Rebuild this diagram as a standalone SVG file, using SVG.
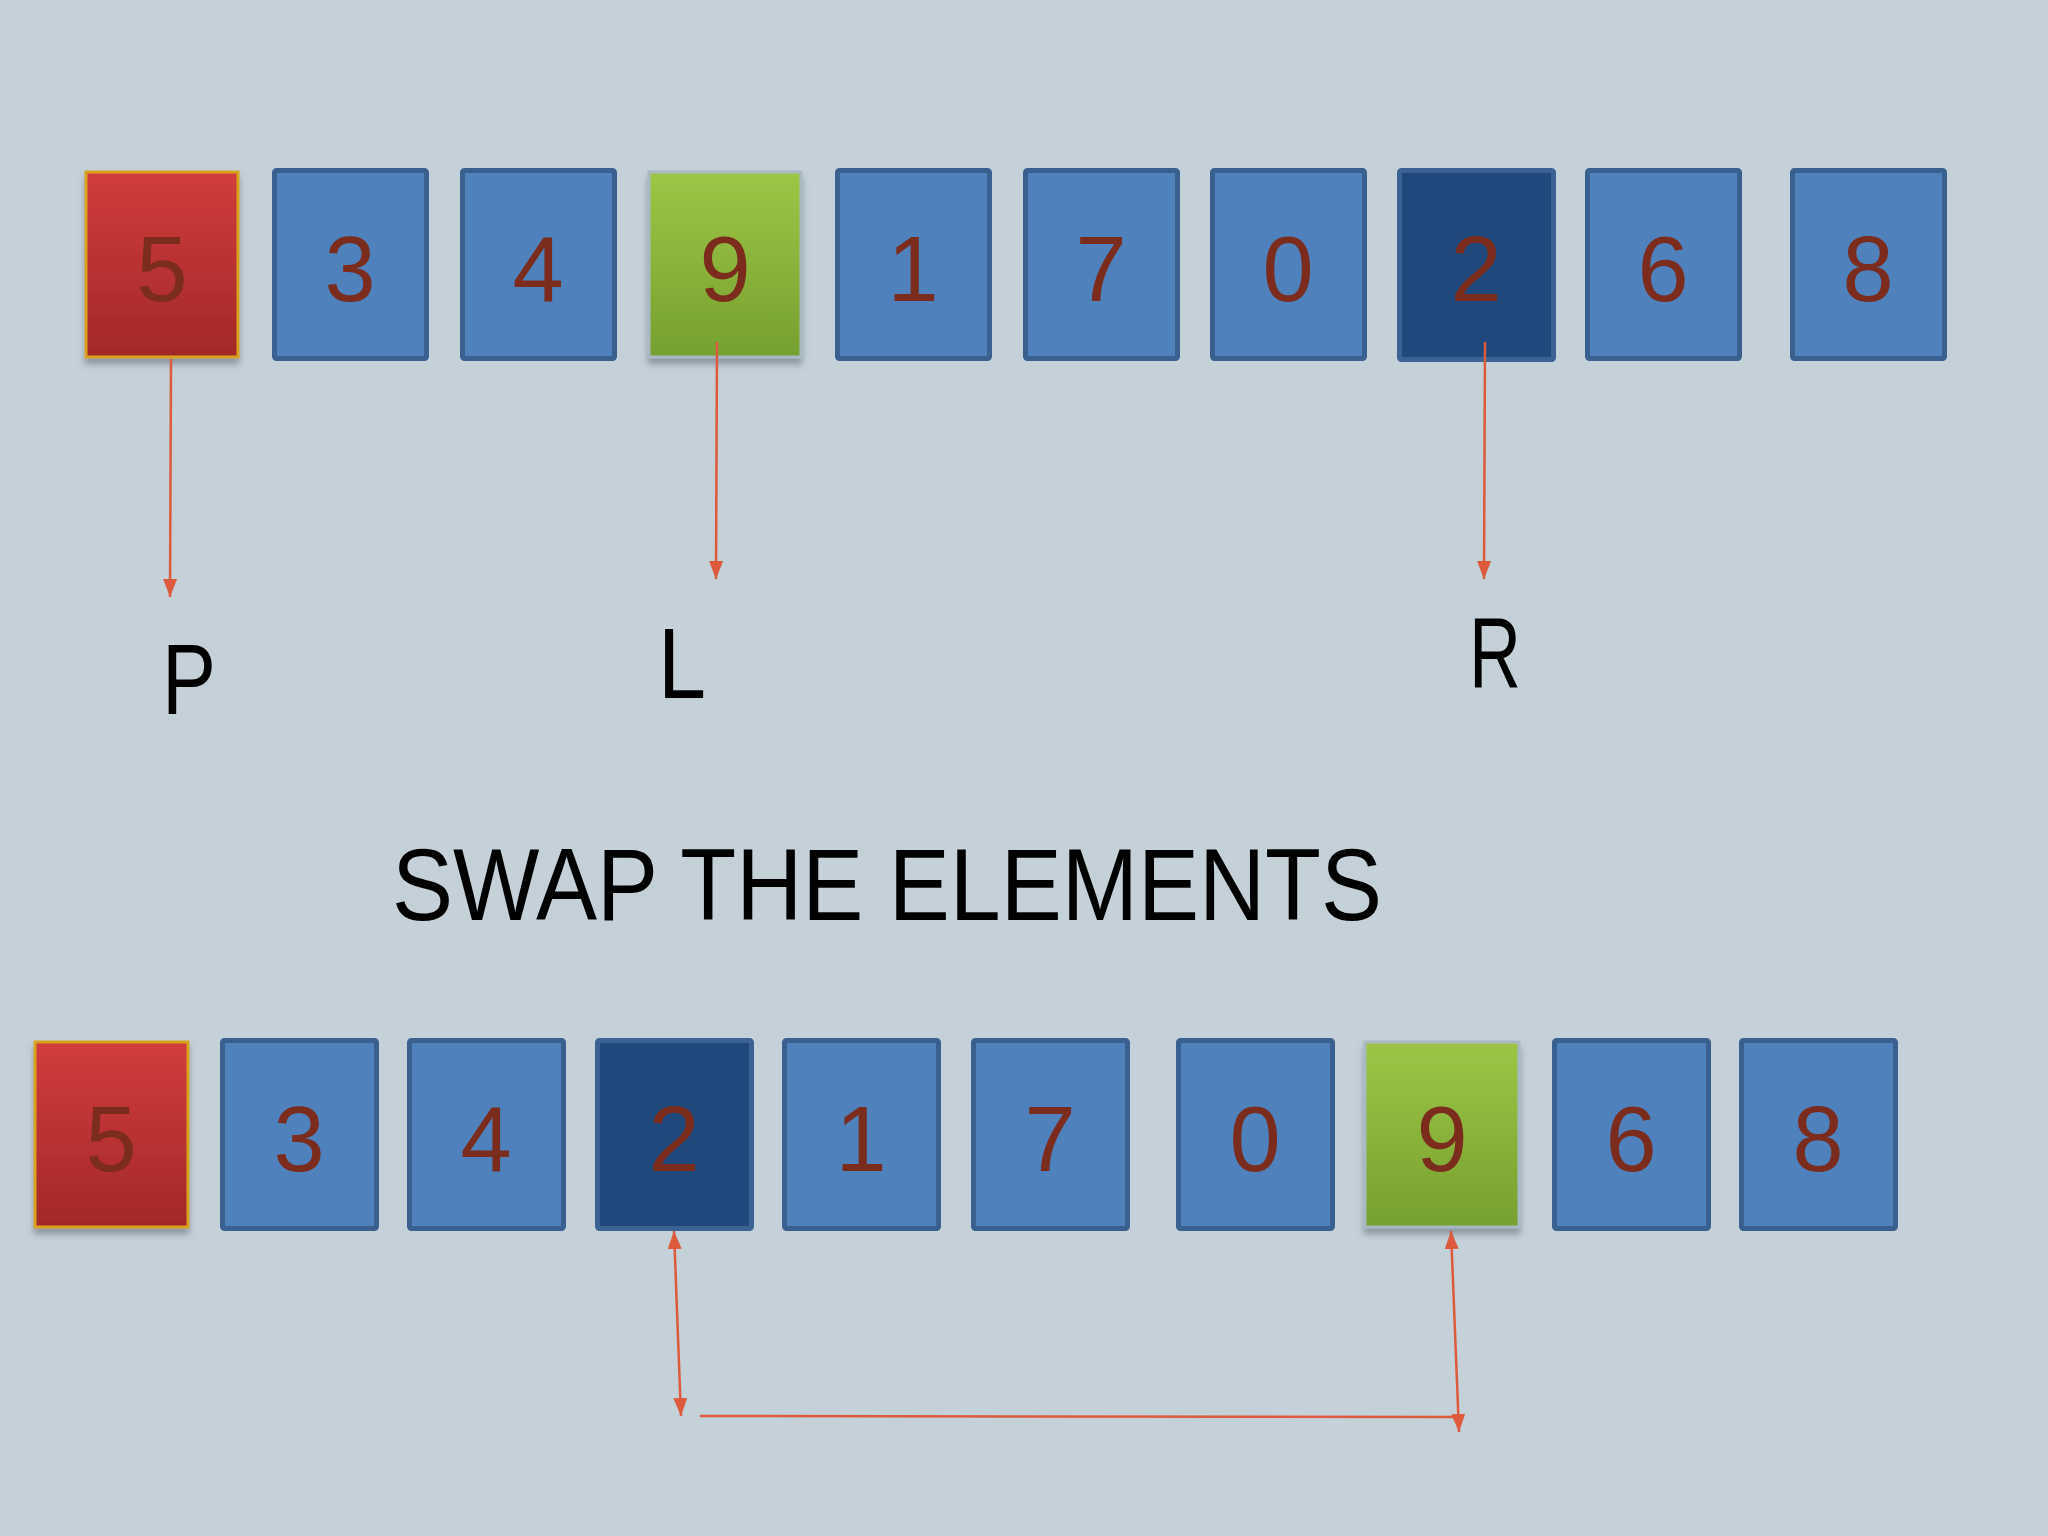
<svg xmlns="http://www.w3.org/2000/svg" width="2048" height="1536" viewBox="0 0 2048 1536">
<defs>
<style>
.blue{fill:#4f81bd;stroke:#3a6090;stroke-width:5}
.dark{fill:#1f497d;stroke:#3a6394;stroke-width:5}
.red{fill:url(#gRed);stroke:#d9a21e;stroke-width:3}
.green{fill:url(#gGreen);stroke:#a9b9c4;stroke-width:3}
.num{font-family:"Liberation Sans",Arial,sans-serif;font-size:92px;fill:#7b2c1c;text-anchor:middle}
.lbl{font-family:"Liberation Sans",Arial,sans-serif;font-size:100px;fill:#000;text-anchor:middle}
.arr{stroke:#dd5a3c;stroke-width:2.5;fill:none}
</style>
<linearGradient id="gRed" x1="0" y1="0" x2="0" y2="1">
<stop offset="0" stop-color="#d23c3c"/>
<stop offset="1" stop-color="#a22828"/>
</linearGradient>
<linearGradient id="gGreen" x1="0" y1="0" x2="0" y2="1">
<stop offset="0" stop-color="#9dc646"/>
<stop offset="1" stop-color="#76a02f"/>
</linearGradient>
<filter id="sh" x="-10%" y="-10%" width="120%" height="125%">
<feDropShadow dx="0" dy="6" stdDeviation="3" flood-color="#55606a" flood-opacity="0.5"/>
</filter>
<marker id="ah" viewBox="0 0 18 14" refX="18" refY="7" markerWidth="18" markerHeight="14" markerUnits="userSpaceOnUse" orient="auto-start-reverse">
<path d="M0,0 L18,7 L0,14 z" fill="#dd5a3c"/>
</marker>
</defs>
<rect width="2048" height="1536" fill="#c5d1d9"/>

<g id="top-row">
<g id="t5"><rect class="red" x="86" y="172" width="152" height="185" filter="url(#sh)"/><text class="num" x="162" y="301">5</text></g>
<g id="t3"><rect class="blue" x="274.5" y="170.5" width="152" height="188" rx="2"/><text class="num" x="350" y="301">3</text></g>
<g id="t4"><rect class="blue" x="462.5" y="170.5" width="152" height="188" rx="2"/><text class="num" x="538" y="301">4</text></g>
<g id="t9"><rect class="green" x="649" y="172" width="152" height="185" filter="url(#sh)"/><text class="num" x="725" y="301">9</text></g>
<g id="t1"><rect class="blue" x="837.5" y="170.5" width="152" height="188" rx="2"/><text class="num" x="913" y="301">1</text></g>
<g id="t7"><rect class="blue" x="1025.5" y="170.5" width="152" height="188" rx="2"/><text class="num" x="1101" y="301">7</text></g>
<g id="t0"><rect class="blue" x="1212.5" y="170.5" width="152" height="188" rx="2"/><text class="num" x="1288" y="301">0</text></g>
<g id="t2"><rect class="dark" x="1399.5" y="170.5" width="154" height="189" rx="2"/><text class="num" x="1476" y="301">2</text></g>
<g id="t6"><rect class="blue" x="1587.5" y="170.5" width="152" height="188" rx="2"/><text class="num" x="1663" y="301">6</text></g>
<g id="t8"><rect class="blue" x="1792.5" y="170.5" width="152" height="188" rx="2"/><text class="num" x="1868" y="301">8</text></g>
</g>

<g id="labels">
<text id="lblP" class="lbl" x="189" y="714" textLength="54" lengthAdjust="spacingAndGlyphs">P</text>
<text id="lblL" class="lbl" x="682" y="698" textLength="48" lengthAdjust="spacingAndGlyphs">L</text>
<text id="lblR" class="lbl" x="1495" y="688" textLength="52" lengthAdjust="spacingAndGlyphs">R</text>
<text id="title" x="392" y="920" font-family="Liberation Sans, Arial, sans-serif" font-size="102" fill="#000" textLength="990" lengthAdjust="spacingAndGlyphs">SWAP THE ELEMENTS</text>
</g>

<g id="bottom-row">
<g id="b5"><rect class="red" x="35" y="1042" width="153" height="185" filter="url(#sh)"/><text class="num" x="111" y="1171">5</text></g>
<g id="b3"><rect class="blue" x="222.5" y="1040.5" width="154" height="188" rx="2"/><text class="num" x="299" y="1171">3</text></g>
<g id="b4"><rect class="blue" x="409.5" y="1040.5" width="154" height="188" rx="2"/><text class="num" x="486" y="1171">4</text></g>
<g id="b2"><rect class="dark" x="597.5" y="1040.5" width="154" height="188" rx="2"/><text class="num" x="674" y="1171">2</text></g>
<g id="b1"><rect class="blue" x="784.5" y="1040.5" width="154" height="188" rx="2"/><text class="num" x="861" y="1171">1</text></g>
<g id="b7"><rect class="blue" x="973.5" y="1040.5" width="154" height="188" rx="2"/><text class="num" x="1050" y="1171">7</text></g>
<g id="b0"><rect class="blue" x="1178.5" y="1040.5" width="154" height="188" rx="2"/><text class="num" x="1255" y="1171">0</text></g>
<g id="b9"><rect class="green" x="1365" y="1042" width="154" height="185" filter="url(#sh)"/><text class="num" x="1442" y="1171">9</text></g>
<g id="b6"><rect class="blue" x="1554.5" y="1040.5" width="154" height="188" rx="2"/><text class="num" x="1631" y="1171">6</text></g>
<g id="b8"><rect class="blue" x="1741.5" y="1040.5" width="154" height="188" rx="2"/><text class="num" x="1818" y="1171">8</text></g>
</g>

<g id="connectors">
<line class="arr" x1="171" y1="359" x2="170" y2="597" marker-end="url(#ah)"/>
<line class="arr" x1="717" y1="342" x2="716" y2="579" marker-end="url(#ah)"/>
<line class="arr" x1="1485" y1="342" x2="1484" y2="579" marker-end="url(#ah)"/>
<line class="arr" x1="674" y1="1231" x2="681" y2="1416" marker-start="url(#ah)" marker-end="url(#ah)"/>
<line class="arr" x1="1451" y1="1231" x2="1459" y2="1432" marker-start="url(#ah)" marker-end="url(#ah)"/>
<line class="arr" x1="700" y1="1416" x2="1464" y2="1417" stroke-width="3"/>
</g>
</svg>
